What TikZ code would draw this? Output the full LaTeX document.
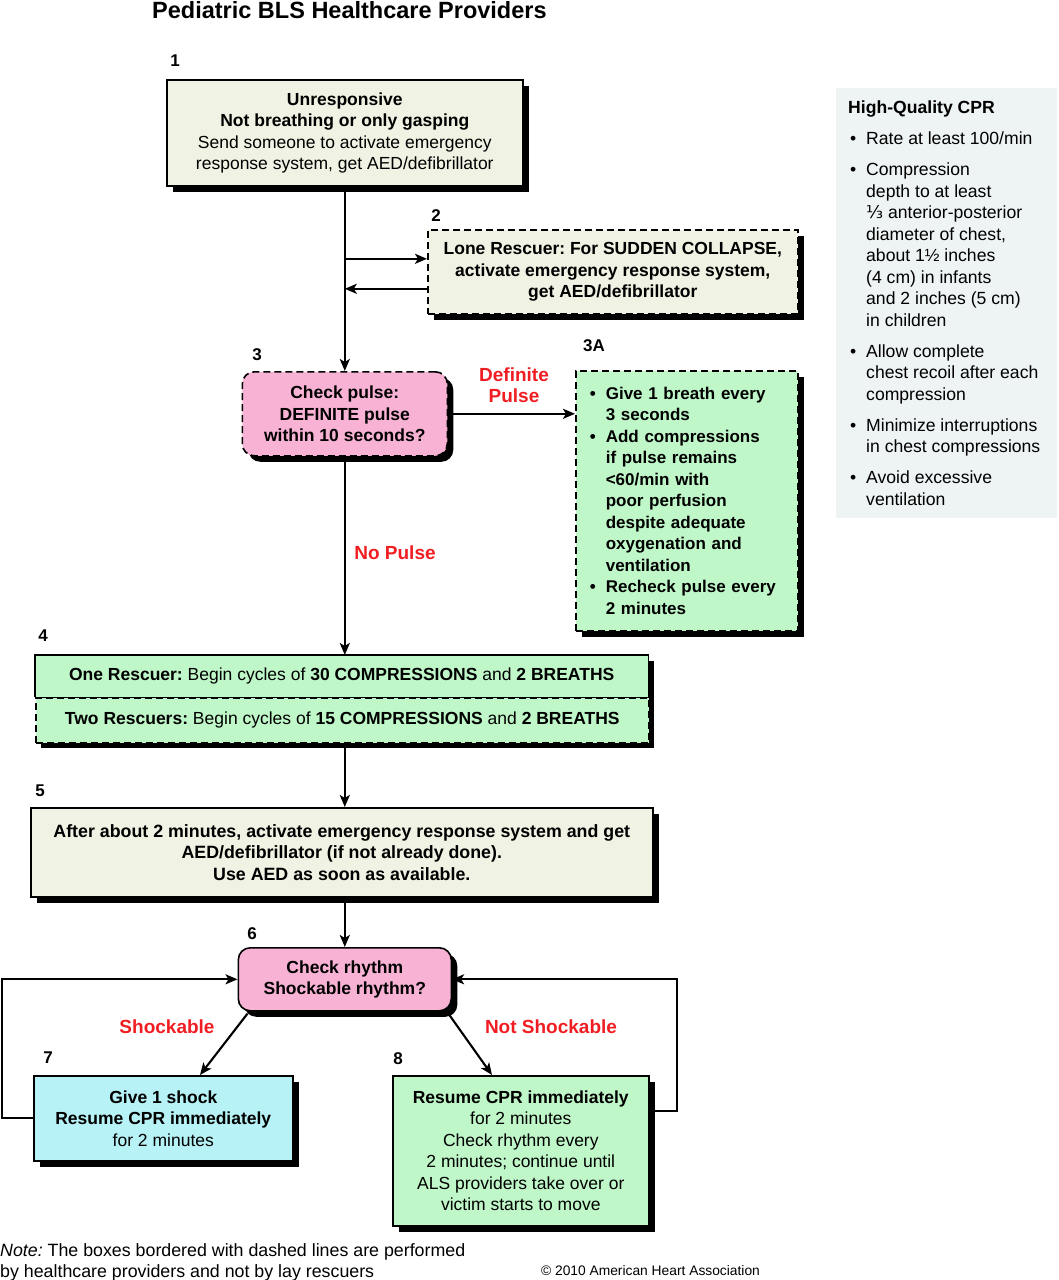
\documentclass[tikz,border=0pt]{standalone}
\usepackage{fontspec}
\setmainfont{Liberation Sans}
\newfontfamily\djfont{DejaVu Sans}
\usetikzlibrary{arrows.meta,shadows,calc}
\definecolor{beige}{HTML}{F0F2E3}
\definecolor{pinkc}{HTML}{F8B2D4}
\definecolor{mint}{HTML}{BFF7C9}
\definecolor{cyanc}{HTML}{B6F2F6}
\definecolor{side}{HTML}{EEF3F3}
\definecolor{redc}{HTML}{F01E23}
\newcommand\fs{\fontsize{17.5}{21.5}\selectfont}
\newcommand\bl{\makebox[16pt][l]{\textbullet}}
\newcommand\ii{\hspace*{16pt}}
\newcommand\sbl{\hspace*{2pt}\makebox[16pt][l]{\textbullet}}
\newcommand\sii{\hspace*{18pt}}
\frenchspacing
\begin{document}
\frenchspacing
\begin{tikzpicture}[x=1pt,y=-1pt,
  box/.style={draw,line width=1.6pt,inner sep=0pt,align=center,font=\fs,anchor=north west,
     drop shadow={shadow xshift=6pt,shadow yshift=-6pt,opacity=1,fill=black}},
  dbox/.style={box,dash pattern=on 7pt off 4pt},
  arr/.style={line width=2.1pt,-{Stealth[length=12pt,width=10pt,inset=3pt]}},
  num/.style={font=\fontsize{17}{17}\selectfont\bfseries,inner sep=0pt},
  lab/.style={font=\fontsize{19}{21.5}\selectfont\bfseries,text=redc,align=center,inner sep=0pt}
]
\useasboundingbox (0,0) rectangle (1059,1280);

% title
\node[anchor=north west,inner sep=0pt,font=\fontsize{23.5}{26}\selectfont\bfseries] (title) at (152,1.5) {Pediatric BLS Healthcare Providers};

% box 1
\node[box,fill=beige,minimum width=356pt,minimum height=106pt] (b1) at (166,79)
  {\textbf{Unresponsive}\\\textbf{Not breathing or only gasping}\\Send someone to activate emergency\\response system, get AED/defibrillator};
\node[num] (n1) at (175,61) {1};

% box 2
\node[dbox,fill=beige,minimum width=370pt,minimum height=84pt,font=\fs\bfseries] (b2) at (427,229)
  {Lone Rescuer: For SUDDEN COLLAPSE,\\activate emergency response system,\\get AED/defibrillator};
\node[num] (n2) at (436,216) {2};

% box 3
\node[dbox,fill=pinkc,rounded corners=12pt,minimum width=205pt,minimum height=84pt,font=\fs\bfseries] (b3) at (241.5,371)
  {Check pulse:\\DEFINITE pulse\\within 10 seconds?};
\node[num] (n3) at (257,355) {3};

% box 3A
\node[dbox,fill=mint,minimum width=222pt,minimum height=260pt,text width=194pt,font=\fontsize{17}{21.5}\selectfont\bfseries,align=left] (b3a) at (575,370)
  {\bl Give 1 breath every\\\ii 3 seconds\\\bl Add compressions\\\ii if pulse remains\\\ii <60/min with\\\ii poor perfusion\\\ii despite adequate\\\ii oxygenation and\\\ii ventilation\\\bl Recheck pulse every\\\ii 2 minutes};
\node[num] (n3a) at (594,346) {3A};

% box 4
\fill[black] (41,661) rectangle (654,748);
\node[anchor=north west,fill=mint,inner sep=0pt,minimum width=613pt,minimum height=42pt,font=\fs] (b4a) at (35,655)
  {\textbf{One Rescuer:} Begin cycles of \textbf{30 COMPRESSIONS} and \textbf{2 BREATHS}};
\draw[line width=1.6pt] (b4a.south west) -- (b4a.north west) -- (b4a.north east) -- (b4a.south east);
\node[anchor=north west,fill=mint,draw,line width=1.6pt,dash pattern=on 7pt off 4pt,inner sep=0pt,minimum width=613pt,minimum height=45pt,font=\fs] (b4b) at (35,697)
  {\textbf{Two Rescuers:} Begin cycles of \textbf{15 COMPRESSIONS} and \textbf{2 BREATHS}};
\node[num] (n4) at (43,636) {4};

% box 5
\node[box,fill=beige,minimum width=622pt,minimum height=89pt,font=\fontsize{17.8}{21.5}\selectfont\bfseries] (b5) at (30,807)
  {After about 2 minutes, activate emergency response system and get\\AED/defibrillator (if not already done).\\Use AED as soon as available.};
\node[num] (n5) at (40,791) {5};

% box 6
\node[box,fill=pinkc,rounded corners=12pt,minimum width=213pt,minimum height=63pt,font=\fs\bfseries] (b6) at (237.5,947)
  {Check rhythm\\Shockable rhythm?};
\node[num] (n6) at (252,934) {6};

% box 7
\node[box,fill=cyanc,minimum width=259pt,minimum height=85pt] (b7) at (33,1075)
  {\textbf{Give 1 shock}\\\textbf{Resume CPR immediately}\\for 2 minutes};
\node[num] (n7) at (48,1058) {7};

% box 8
\node[box,fill=mint,minimum width=256pt,minimum height=150pt] (b8) at (392,1075)
  {\textbf{Resume CPR immediately}\\for 2 minutes\\Check rhythm every\\2 minutes; continue until\\ALS providers take over or\\victim starts to move};
\node[num] (n8) at (398,1059) {8};

% sidebar
\node[anchor=north west,fill=side,inner sep=0pt,minimum width=221pt,minimum height=430pt] (side) at (836,88) {};
\node[anchor=north west,inner sep=0pt,align=left,font=\fontsize{17.6}{21.5}\selectfont] (sidetext) at (848,100.5)
  {\textbf{High-Quality CPR}\\[9.6pt]
   \sbl Rate at least 100/min\\[9.6pt]
   \sbl Compression\\\sii depth to at least\\\sii {\djfont ⅓} anterior-posterior\\\sii diameter of chest,\\\sii about 1½ inches\\\sii (4 cm) in infants\\\sii and 2 inches (5 cm)\\\sii in children\\[9.6pt]
   \sbl Allow complete\\\sii chest recoil after each\\\sii compression\\[9.6pt]
   \sbl Minimize interruptions\\\sii in chest compressions\\[9.6pt]
   \sbl Avoid excessive\\\sii ventilation};

% red labels
\node[lab] (ldp) at (514,385) {Definite\\Pulse};
\node[lab] (lnp) at (395,553) {No Pulse};
\node[lab] (lsh) at (167,1027) {Shockable};
\node[lab] (lns) at (551,1027) {Not Shockable};

% connectors
\coordinate (in2) at ([yshift=13pt]b2.west);
\coordinate (out2) at ([yshift=-17pt]b2.west);
\coordinate (lx) at (2,0);
\coordinate (rx) at (677,0);
\coordinate (s7) at ([xshift=10pt,yshift=-2pt]b6.south west);
\coordinate (e7) at ([xshift=167pt]b7.north west);
\coordinate (s8) at ([xshift=-3pt,yshift=-3pt]b6.south east);
\coordinate (e8) at ([xshift=100pt]b8.north west);
\coordinate (r8) at ([yshift=40pt]b8.east);

\draw[arr] (b1.south) -- (b3.north);
\draw[arr] (in2 -| b1.south) -- (in2);
\draw[arr] (out2) -- (out2 -| b1.south);
\draw[arr] (b3.east) -- (b3.east -| b3a.west);
\draw[arr] (b3.south) -- (b3.south |- b4a.north);
\draw[arr] (b4b.south -| b3.south) -- (b5.north -| b3.south);
\draw[arr] (b5.south -| b6.north) -- (b6.north);
\draw[arr] (s7) -- (e7);
\draw[arr] (s8) -- (e8);
\draw[arr] (b7.west) -- (b7.west -| lx) |- (b6.west);
\draw[arr] (r8) -- (r8 -| rx) |- (b6.east);

% footer
\node[anchor=north west,inner sep=0pt,align=left,font=\fontsize{17.8}{21}\selectfont] (note) at (0,1243)
  {\textit{Note:} The boxes bordered with dashed lines are performed\\by healthcare providers and not by lay rescuers};
\node[inner sep=0pt,font=\fontsize{13.8}{16}\selectfont] (copy) at (650.5,1271) {© 2010 American Heart Association};
\end{tikzpicture}
\end{document}
